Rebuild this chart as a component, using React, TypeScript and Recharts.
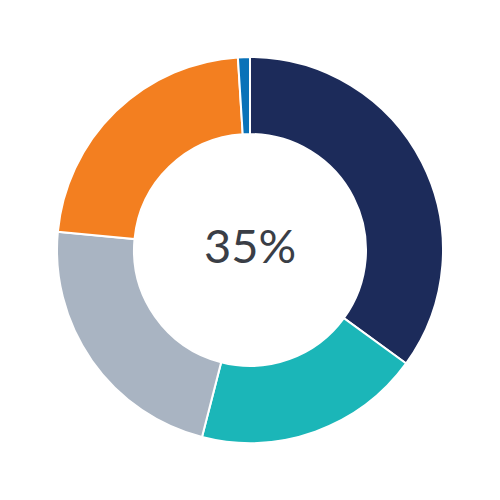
import React from "react";
import { PieChart, Pie, Cell } from "recharts";

const labels = ["Navy", "Teal", "Gray", "Orange", "Blue"];
const values = [35, 19, 22.5, 22.5, 1];
const colors = ["#1c2b5a", "#1bb6b8", "#a9b4c2", "#f37f20", "#0a72b8"];
const centerLabel = "35%";

const data = labels.map((name, i) => ({ name, value: values[i] }));

export default function App() {
  return (
    <div style={{ width: 500, height: 500, background: "#fff" }}>
      <PieChart width={500} height={500}>
        <Pie
          data={data}
          dataKey="value"
          cx={237}
          cy={237}
          innerRadius={116}
          outerRadius={193}
          startAngle={90}
          endAngle={-270}
          stroke="#fff"
          strokeWidth={2}
          isAnimationActive={false}
        >
          {data.map((d, i) => (
            <Cell key={d.name} fill={colors[i]} />
          ))}
        </Pie>
        <text
          x={242}
          y={237}
          textAnchor="middle"
          dominantBaseline="central"
          fontFamily="Lato, sans-serif"
          fontSize={47}
          fill="#3a3e46"
        >
          {centerLabel}
        </text>
      </PieChart>
    </div>
  );
}
